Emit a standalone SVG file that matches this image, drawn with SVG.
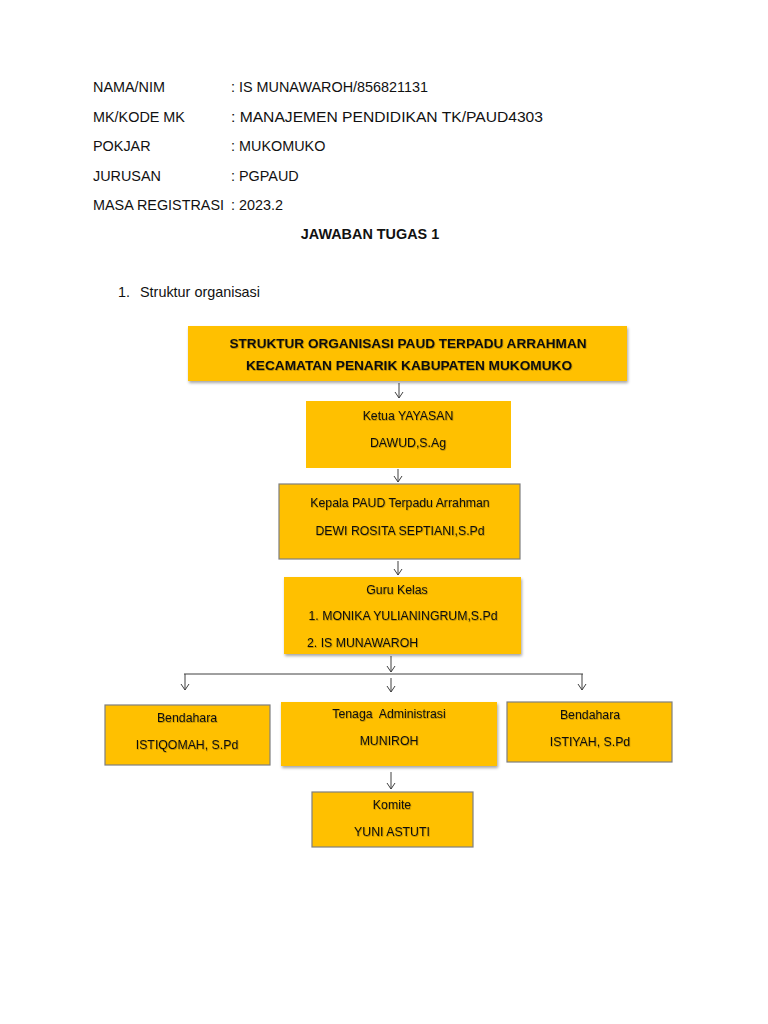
<svg xmlns="http://www.w3.org/2000/svg" width="768" height="1024" viewBox="0 0 768 1024">
<style>
.t{font-family:"Liberation Sans",Arial,sans-serif;font-size:14.4px;fill:#111}
.b{font-family:"Liberation Sans",Arial,sans-serif;font-size:12.3px;fill:#111;text-anchor:middle}
.h{font-family:"Liberation Sans",Arial,sans-serif;font-size:13.5px;font-weight:bold;fill:#111;text-anchor:middle}
.box{fill:#FFC000}
.bord{fill:#FFC000;stroke:#7f7f7f;stroke-width:1.2}
.c{stroke:#404040;stroke-width:1;fill:none}
</style>
<defs>
<filter id="sh" x="-10%" y="-20%" width="120%" height="150%">
<feDropShadow dx="1" dy="2" stdDeviation="1.5" flood-color="#000" flood-opacity="0.35"/>
</filter>
<filter id="ts" x="-5%" y="-30%" width="110%" height="160%">
<feDropShadow dx="0.6" dy="0.8" stdDeviation="0.5" flood-color="#000" flood-opacity="0.3"/>
</filter>
<marker id="ar" markerWidth="10" markerHeight="10" refX="9" refY="5" orient="auto" markerUnits="userSpaceOnUse" viewBox="0 0 10 10">
<path d="M3,1 L9,5 L3,9" fill="none" stroke="#404040" stroke-width="1"/>
</marker>
</defs>
<rect width="768" height="1024" fill="#fff"/>
<g id="header">
<text class="t" x="93" y="92">NAMA/NIM</text>
<text class="t" x="231" y="92">: IS MUNAWAROH/856821131</text>
<text class="t" x="93" y="122">MK/KODE MK</text>
<text class="t" x="231" y="122" textLength="312" lengthAdjust="spacingAndGlyphs">: MANAJEMEN PENDIDIKAN TK/PAUD4303</text>
<text class="t" x="93" y="151">POKJAR</text>
<text class="t" x="231" y="151">: MUKOMUKO</text>
<text class="t" x="93" y="181">JURUSAN</text>
<text class="t" x="231" y="181">: PGPAUD</text>
<text class="t" x="93" y="210" textLength="131" lengthAdjust="spacingAndGlyphs">MASA REGISTRASI</text>
<text class="t" x="231" y="210">: 2023.2</text>
<text class="t" x="370" y="239" text-anchor="middle" font-weight="bold">JAWABAN TUGAS 1</text>
<text class="t" x="118" y="297">1.</text>
<text class="t" x="140" y="297">Struktur organisasi</text>
</g>
<g id="connectors">
<line class="c" x1="399" y1="383" x2="399" y2="398" marker-end="url(#ar)"/>
<line class="c" x1="398" y1="469" x2="398" y2="482" marker-end="url(#ar)"/>
<line class="c" x1="398" y1="561" x2="398" y2="575" marker-end="url(#ar)"/>
<line class="c" x1="391" y1="656" x2="391" y2="672" marker-end="url(#ar)"/>
<line class="c" x1="184" y1="674" x2="583" y2="674" stroke="#808080"/>
<line class="c" x1="185" y1="674" x2="185" y2="690" marker-end="url(#ar)"/>
<line class="c" x1="391" y1="678" x2="391" y2="692" marker-end="url(#ar)"/>
<line class="c" x1="582" y1="674" x2="582" y2="690" marker-end="url(#ar)"/>
<line class="c" x1="391" y1="772" x2="391" y2="789" marker-end="url(#ar)"/>
</g>
<g id="title">
<rect class="box" x="188" y="326" width="439" height="55" filter="url(#sh)"/>
<text class="h" x="408" y="348" filter="url(#ts)" textLength="357" lengthAdjust="spacingAndGlyphs">STRUKTUR ORGANISASI PAUD TERPADU ARRAHMAN</text>
<text class="h" x="409" y="370" filter="url(#ts)" textLength="326" lengthAdjust="spacingAndGlyphs">KECAMATAN PENARIK KABUPATEN MUKOMUKO</text>
</g>
<g id="ketua">
<rect class="box" x="306" y="401" width="205" height="67"/>
<text class="b" x="408" y="420" filter="url(#ts)">Ketua YAYASAN</text>
<text class="b" x="408" y="447" filter="url(#ts)">DAWUD,S.Ag</text>
</g>
<g id="kepala">
<rect class="bord" x="279" y="484" width="241" height="75"/>
<text class="b" x="400" y="507" filter="url(#ts)">Kepala PAUD Terpadu Arrahman</text>
<text class="b" x="400" y="535" filter="url(#ts)">DEWI ROSITA SEPTIANI,S.Pd</text>
</g>
<g id="guru">
<rect class="box" x="284" y="577" width="237" height="77" filter="url(#sh)"/>
<text class="b" x="397" y="594" filter="url(#ts)">Guru Kelas</text>
<text class="b" x="403" y="620" filter="url(#ts)">1. MONIKA YULIANINGRUM,S.Pd</text>
<text class="b" x="307" y="647" style="text-anchor:start" filter="url(#ts)">2. IS MUNAWAROH</text>
</g>
<g id="bendahara1">
<rect class="bord" x="105" y="705" width="165" height="60"/>
<text class="b" x="187" y="722" filter="url(#ts)">Bendahara</text>
<text class="b" x="187" y="749" filter="url(#ts)">ISTIQOMAH, S.Pd</text>
</g>
<g id="tenaga">
<rect class="box" x="281" y="702" width="216" height="64" filter="url(#sh)"/>
<text class="b" x="389" y="718" xml:space="preserve" filter="url(#ts)">Tenaga  Administrasi</text>
<text class="b" x="389" y="745" filter="url(#ts)">MUNIROH</text>
</g>
<g id="bendahara2">
<rect class="bord" x="507" y="702" width="165" height="60"/>
<text class="b" x="590" y="719" filter="url(#ts)">Bendahara</text>
<text class="b" x="590" y="746" filter="url(#ts)">ISTIYAH, S.Pd</text>
</g>
<g id="komite">
<rect class="bord" x="312" y="792" width="161" height="55"/>
<text class="b" x="392" y="809" filter="url(#ts)">Komite</text>
<text class="b" x="392" y="836" filter="url(#ts)">YUNI ASTUTI</text>
</g>
</svg>
